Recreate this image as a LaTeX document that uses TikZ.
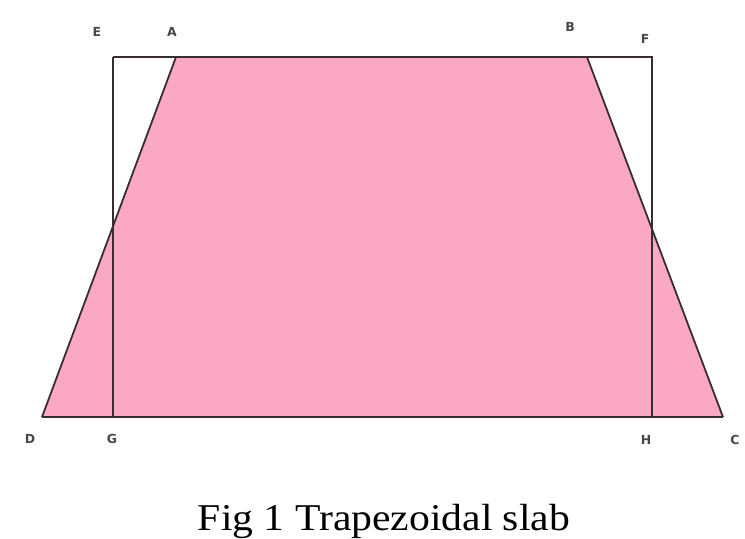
\documentclass[tikz,border=0pt]{standalone}
\usepackage{fontspec}
\setmainfont{Liberation Serif}
\setsansfont{DejaVu Sans}
\definecolor{slabpink}{RGB}{250,168,196}
\definecolor{edge}{RGB}{55,45,50}
\begin{document}
\begin{tikzpicture}[x=1bp,y=-1bp,
  lbl/.style={font=\sffamily\bfseries\fontsize{12.5}{14}\selectfont, text=black!72},
  edgeline/.style={draw=edge,line width=1.8bp}]
\useasboundingbox (0,0) rectangle (745,539);
\coordinate (E) at (113,57);
\coordinate (A) at (176,57);
\coordinate (B) at (587,57);
\coordinate (F) at (652,57);
\coordinate (D) at (42,417);
\coordinate (G) at (113,417);
\coordinate (H) at (652,417);
\coordinate (C) at (723,417);
\fill[slabpink] (A) -- (B) -- (C) -- (D) -- cycle;
\draw[edgeline] (E) -- (F) -- (H);
\draw[edgeline] (E) -- (G);
\draw[edgeline] (D) -- (C);
\draw[edgeline] (A) -- (D);
\draw[edgeline] (B) -- (C);
\node[lbl] (lE) at (97,32) {E};
\node[lbl] (lA) at (172,32) {A};
\node[lbl] (lB) at (570,27) {B};
\node[lbl] (lF) at (645,39) {F};
\node[lbl] (lD) at (30,439) {D};
\node[lbl] (lG) at (112,439) {G};
\node[lbl] (lH) at (646,440) {H};
\node[lbl] (lC) at (735,440) {C};
\node[anchor=base, xscale=1.1, font=\fontsize{38}{40}\selectfont] (cap) at (384,530) {Fig 1 Trapezoidal slab};
\end{tikzpicture}
\end{document}
